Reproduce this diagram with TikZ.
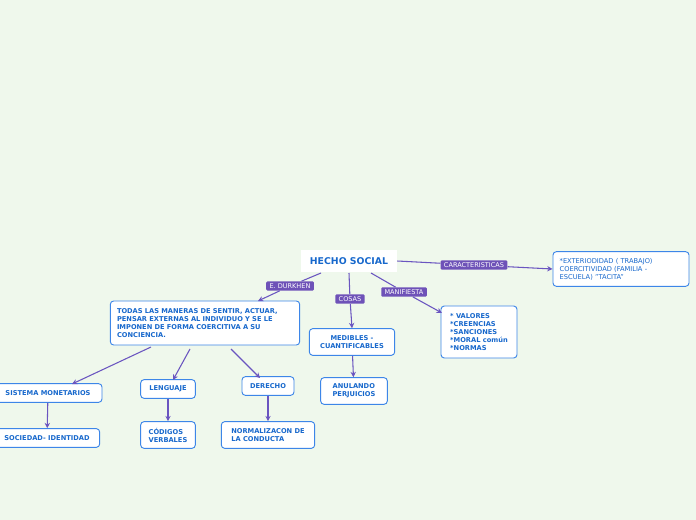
\documentclass[tikz,border=0pt]{standalone}
\usepackage{fontspec}
\usetikzlibrary{arrows.meta}
\setmainfont{DejaVu Sans}
\definecolor{bg}{HTML}{EFF8EC}
\definecolor{bx}{HTML}{3D86E8}
\definecolor{tx}{HTML}{1768CC}
\definecolor{lb}{HTML}{6E52B8}
\definecolor{ln}{HTML}{6A55C0}
\begin{document}
\begin{tikzpicture}[x=0.75pt,y=-0.75pt,
 box/.style={draw=bx,fill=white,rounded corners=2.5pt,line width=0.7pt,text=tx,font=\fontsize{5}{6}\selectfont\bfseries,align=left,inner xsep=5pt,inner ysep=2pt},
 lab/.style={fill=lb,text=white,font=\fontsize{4.9}{5.5}\selectfont,inner xsep=2.5pt,inner ysep=1.6pt,rounded corners=0.8pt},
 con/.style={draw=ln,line width=0.8pt},
 arr/.style={con,-{Stealth[length=4pt,width=4pt]}}]
\fill[bg] (0,0) rectangle (696,520);
\useasboundingbox (0,0) rectangle (696,520);
\node[fill=white,text=tx,font=\fontsize{7}{8}\selectfont\bfseries,minimum width=72pt,minimum height=16pt] (h) at (349,261) {HECHO SOCIAL};
\node[box,text width=92pt,font=\fontsize{5}{6}\selectfont,minimum height=26pt] (c) at (621,269) {*EXTERIODIDAD ( TRABAJO)\\*COERCITIVIDAD (FAMILIA -\\ESCUELA) "TACITA"};
\node[box,text width=132pt,minimum height=33pt] (t) at (205,323) {TODAS LAS MANERAS DE SENTIR, ACTUAR,\\PENSAR EXTERNAS AL INDIVIDUO Y SE LE\\IMPONEN DE FORMA COERCITIVA A SU\\CONCIENCIA.};
\node[box,align=center,minimum width=64pt,minimum height=20pt] (m) at (352,342) {MEDIBLES -\\CUANTIFICABLES};
\node[box,minimum width=57pt,minimum height=39pt] (v) at (479,332) {* VALORES\\*CREENCIAS\\*SANCIONES\\*MORAL común\\*NORMAS};
\node[box,minimum width=81pt,minimum height=14pt] (s) at (48,393) {SISTEMA MONETARIOS};
\node[box,minimum width=79pt,minimum height=14pt] (so) at (47,438) {SOCIEDAD- IDENTIDAD};
\node[box,minimum width=41pt,minimum height=14pt] (l) at (168,389) {LENGUAJE};
\node[box,minimum width=41pt,minimum height=20pt] (cv) at (168,435) {CÓDIGOS\\VERBALES};
\node[box,minimum width=39pt,minimum height=14pt] (d) at (268,386) {DERECHO};
\node[box,minimum width=70pt,minimum height=20pt] (n) at (268,435) {NORMALIZACON DE\\LA CONDUCTA};
\node[box,minimum width=50pt,minimum height=20pt] (a) at (354,391) {ANULANDO\\PERJUICIOS};
\node[lab] (l1) at (474,265) {CARACTERISTICAS};
\node[lab] (l2) at (290,286) {E. DURKHEN};
\node[lab] (l3) at (350,299) {COSAS};
\node[lab] (l4) at (404,292) {MANIFIESTA};
\draw[con] (h.east) -- (l1); \draw[arr] (l1) -- (c.west);
\draw[con] (321,273) -- (l2); \draw[arr] (l2) -- (258,301);
\draw[con] (349,273) -- (l3); \draw[arr] (l3) -- (m.north);
\draw[con] (371,273) -- (l4); \draw[arr] (l4) -- (442,313);
\draw[arr] (151,347) -- (72,384);
\draw[arr] (190,349) -- (173,380);
\draw[arr] (231,349) -- (260,378);
\draw[arr] (s) -- (so);
\draw[arr] (l) -- (cv);
\draw[arr] (d) -- (n);
\draw[arr] (m) -- (a);
\end{tikzpicture}
\end{document}
